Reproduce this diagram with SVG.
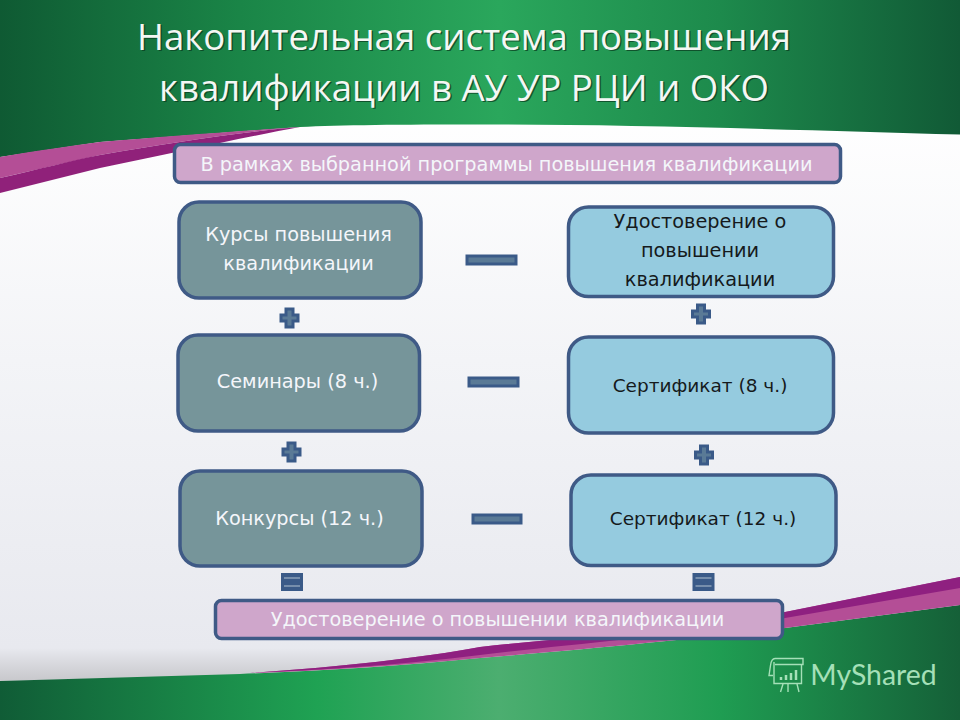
<svg xmlns="http://www.w3.org/2000/svg" width="960" height="720" viewBox="0 0 960 720">
<defs>
<linearGradient id="bg" x1="0" y1="0" x2="0" y2="1"><stop offset="0.15" stop-color="#ffffff"/><stop offset="0.5" stop-color="#f3f4f7"/><stop offset="0.9" stop-color="#e8e9ef"/></linearGradient>
<linearGradient id="gt" x1="0" y1="0" x2="1" y2="0"><stop offset="0" stop-color="#0f5a33"/><stop offset="0.25" stop-color="#1a8547"/><stop offset="0.52" stop-color="#2aa75c"/><stop offset="0.75" stop-color="#1d8a4c"/><stop offset="1" stop-color="#115a36"/></linearGradient>
<linearGradient id="gb" x1="0" y1="0" x2="1" y2="0"><stop offset="0" stop-color="#105c36"/><stop offset="0.33" stop-color="#1fa253"/><stop offset="0.52" stop-color="#4cae70"/><stop offset="0.75" stop-color="#1f9d52"/><stop offset="1" stop-color="#156038"/></linearGradient>
<linearGradient id="sh" gradientUnits="userSpaceOnUse" x1="0" y1="648" x2="0" y2="681"><stop offset="0" stop-color="#c4c4c8" stop-opacity="0"/><stop offset="1" stop-color="#c8c8cc"/></linearGradient>
<style>
text{font-family:"Open Sans","Noto Sans","Liberation Sans",sans-serif;text-anchor:middle}
.title{font-size:36.6px;fill:#f4f7f4}
.shadow{font-size:36.6px;fill:#0a3d20;opacity:.75}
.band{fill:#cfa6cb;stroke:#3f5a86;stroke-width:3.5}
.grey{fill:#76959a;stroke:#3f5a86;stroke-width:3.5}
.blue{fill:#95cbdf;stroke:#3f5a86;stroke-width:3.5}
.w,.k{font-family:"DejaVu Sans","Open Sans",sans-serif;font-size:19.300px}
.w{fill:#f4f6fa}
.k{fill:#151a1c}
.s{font-size:18.500px}
.sym{fill:#5a7a96;stroke:#3a5a88;stroke-width:3}
</style>
</defs>
<rect width="960" height="720" fill="url(#bg)"/>
<path d="M0 648H480V660L240 675L0 681Z" fill="url(#sh)"/>
<path d="M0 0H960V134.500C800 130 620 124 480 124.500C400 124.500 340 125 300 127L100 142L0 157Z" fill="url(#gt)"/>
<path d="M0 157C40 150 70 146 100 142C170 136 240 131 300 127C240 132 170 143 100 155L0 178Z" fill="#b44e96"/>
<path d="M0 178C40 169 70 161 100 155C170 143 240 132 300 127C250 136 173 153 100 168L0 193Z" fill="#90217a"/>
<path d="M0 681L240 674C320 671 400 666 480 658C600 648 700 638 785 628L960 605V720H0Z" fill="url(#gb)"/>
<path d="M250 673C340 667 420 658 480 647C600 634 720 627 785 612L960 577V605L785 628C700 638 600 648 480 658C400 666 320 671 250 673Z" fill="#b44e96"/>
<path d="M250 673C340 667 420 658 480 647C600 634 720 627 785 612L960 577V588L785 618C680 636 560 645 480 655C400 665 320 670 250 673Z" fill="#8f2080"/>
<text class="shadow" x="465.500" y="50.500">Накопительная система повышения</text>
<text class="shadow" x="465.500" y="101.500">квалификации в АУ УР РЦИ и ОКО</text>
<g id="title"><text class="title" x="464" y="49.500">Накопительная система повышения</text>
<text class="title" x="464" y="100.500">квалификации в АУ УР РЦИ и ОКО</text></g>
<g id="connectors">
<rect class="sym" x="467" y="256" width="49" height="8"/>
<rect class="sym" x="469" y="378" width="49" height="8"/>
<rect class="sym" x="473" y="515" width="48" height="8"/>
<path class="sym" d="M286 309h7v6h5v6h-5v6h-7v-6h-5v-6h5z"/>
<path class="sym" d="M288 443h7v6h5v6h-5v6h-7v-6h-5v-6h5z"/>
<path class="sym" d="M697.500 305h7v6h5v6h-5v6h-7v-6h-5v-6h5z"/>
<path class="sym" d="M700.500 446h7v6h5v6h-5v6h-7v-6h-5v-6h5z"/>
<g><rect x="281" y="573" width="22" height="18" fill="#3a5a88"/><path d="M284 578h16M284 586h16" stroke="#8aa0b8" stroke-width="1.500"/></g>
<g><rect x="692.500" y="573" width="22" height="18" fill="#3a5a88"/><path d="M695.500 578h16M695.500 586h16" stroke="#8aa0b8" stroke-width="1.500"/></g>
</g>
<g id="top-band"><rect class="band" x="174.500" y="144.500" width="666" height="38" rx="6"/><text class="w" x="506.500" y="171">В рамках выбранной программы повышения квалификации</text></g>
<g id="kursy"><rect class="grey" x="179" y="202" width="242" height="96" rx="20"/><text class="w" x="298.500" y="241">Курсы повышения</text><text class="w" x="298.500" y="270">квалификации</text></g>
<g id="seminary"><rect class="grey" x="178" y="335" width="241.500" height="96" rx="20"/><text class="w" x="297.500" y="388">Семинары (8 ч.)</text></g>
<g id="konkursy"><rect class="grey" x="180" y="471" width="242" height="95" rx="20"/><text class="w" x="299.500" y="525">Конкурсы (12 ч.)</text></g>
<g id="udost"><rect class="blue" x="568.500" y="207" width="265" height="89.500" rx="20"/><text class="k" x="700" y="228">Удостоверение о</text><text class="k" x="700" y="257">повышении</text><text class="k" x="700" y="286">квалификации</text></g>
<g id="sert8"><rect class="blue" x="568.500" y="337" width="265" height="96" rx="20"/><text class="k s" x="700" y="392">Сертификат (8 ч.)</text></g>
<g id="sert12"><rect class="blue" x="571" y="475" width="265" height="90.500" rx="20"/><text class="k s" x="703" y="525">Сертификат (12 ч.)</text></g>
<g id="bottom-band"><rect class="band" x="215.500" y="600.500" width="567" height="38" rx="6"/><text class="w" x="497.500" y="626">Удостоверение о повышении квалификации</text></g>
<g id="watermark" fill="none" stroke="#a5e0b8" stroke-width="1.400">
<path d="M775 658.500H803V664.500H775M775 658.500c-3 0-4 3-4.500 7l-1.500 10h4M774 662v21.500H801.500V665"/>
<path d="M783 684l-2.500 8M788 684v8M797 684l2 8"/>
<path d="M781 680v-3M786 680v-5M791 680v-7M796 680v-10" stroke-width="2.500"/>
</g>
<text x="873.500" y="685" font-size="28.400" fill="#a5e0b8" style="font-family:Lato,'Open Sans',sans-serif">MyShared</text>
</svg>
